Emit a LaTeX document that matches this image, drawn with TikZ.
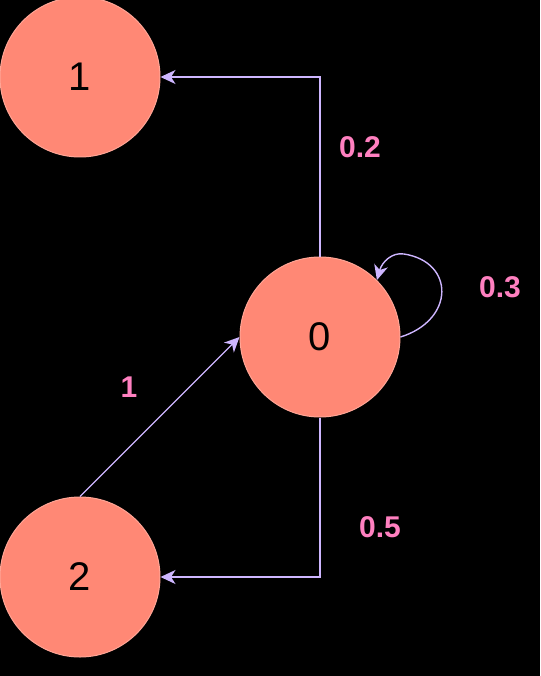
\documentclass[tikz,border=0pt]{standalone}
\usepackage{fontspec}
\setmainfont{Liberation Sans}
\usetikzlibrary{arrows.meta}
\definecolor{nodefill}{RGB}{255,136,117}
\definecolor{nodeline}{RGB}{255,165,150}
\definecolor{edgecol}{RGB}{206,182,255}
\definecolor{labcol}{RGB}{255,128,192}
\tikzset{
  state/.style={circle, fill=nodefill, draw=nodeline, line width=1pt, minimum size=160pt, inner sep=0pt, font=\fontsize{40}{42}\selectfont, text=black},
  edge/.style={draw=edgecol, line width=1.4pt, -{Stealth[length=15pt, width=14pt, inset=4.5pt]}},
  lab/.style={text=labcol, font=\bfseries\fontsize{30}{32}\selectfont}
}
\begin{document}
\begin{tikzpicture}[x=1pt, y=-1pt]
\useasboundingbox[fill=black] (0,0) rectangle (540,676);
\node[state] (n1) at (80,77) {1};
\node[state] (n0) at (320,337) {0};
\node[state] (n2) at (80,577) {2};
\coordinate (c1) at (320,77);
\coordinate (c2) at (320,577);
\draw[edge] (n0.north) -- (c1) -- (n1.east);
\draw[edge] (n0.south) -- (c2) -- (n2.east);
\draw[edge] (n2.north) -- (n0.west);
\draw[edge] (n0.east) .. controls (455,320) and (455,262) .. (404,254) .. controls (392,252) and (382,262) .. (n0.45);
\node[lab] (l02) at (360,147) {0.2};
\node[lab] (l03) at (500,287) {0.3};
\node[lab] (l05) at (380,527) {0.5};
\node[lab] (l1) at (129,387) {1};
\end{tikzpicture}
\end{document}
